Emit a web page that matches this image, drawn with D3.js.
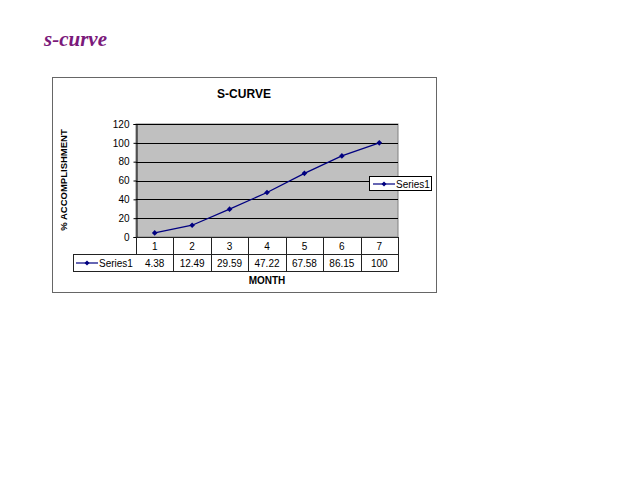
<!DOCTYPE html>
<html>
<head>
<meta charset="utf-8">
<script src="https://cdn.jsdelivr.net/npm/d3@7"></script>
<style>
body { margin: 0; background: #fff; }
svg { display: block; }
</style>
</head>
<body>
<svg width="638" height="478"></svg>
<script>
let svg = d3.select("svg");

let months = ["1", "2", "3", "4", "5", "6", "7"];
let series1 = [4.38, 12.49, 29.59, 47.22, 67.58, 86.15, 100];
let yTicks = [0, 20, 40, 60, 80, 100, 120];
let seriesName = "Series1";

let font = "Liberation Sans, Arial, sans-serif";
let plotLeft = 136, plotRight = 398, plotTop = 124, plotBottom = 237;
let rowH = 17;
let tableLeft = 73;
let lineColor = "#000080";

// page title
svg.append("text")
    .attr("x", 44)
    .attr("y", 46)
    .attr("fill", "#7b1a7b")
    .style("font-family", "Liberation Serif, serif")
    .style("font-size", "21px")
    .style("font-weight", "bold")
    .style("font-style", "italic")
    .text("s-curve");

// chart frame
svg.append("rect")
    .attr("x", 52.5).attr("y", 77.5)
    .attr("width", 384).attr("height", 215)
    .attr("fill", "#fff").attr("stroke", "#666").attr("stroke-width", 1);

svg.append("text")
    .attr("x", 244).attr("y", 98)
    .attr("text-anchor", "middle")
    .style("font-family", font).style("font-size", "12px").style("font-weight", "bold")
    .text("S-CURVE");

let x = d3.scaleBand().domain(months).range([plotLeft, plotRight]);
let y = d3.scaleLinear().domain([0, 120]).range([plotBottom, plotTop]);

// plot area
svg.append("rect")
    .attr("x", plotLeft).attr("y", plotTop)
    .attr("width", plotRight - plotLeft).attr("height", plotBottom - plotTop)
    .attr("fill", "#c0c0c0").attr("stroke", "#808080");

svg.append("g")
    .selectAll("line")
    .data(yTicks.filter(d => d > 0))
    .join("line")
    .attr("x1", plotLeft).attr("x2", plotRight)
    .attr("y1", d => Math.round(y(d)) + 0.5).attr("y2", d => Math.round(y(d)) + 0.5)
    .attr("stroke", "#000").attr("stroke-width", 1);

// y axis
let yAxis = svg.append("g")
    .attr("transform", `translate(${plotLeft + 0.5},0)`)
    .call(d3.axisLeft(y).tickValues(yTicks).tickSize(3).tickPadding(4));
yAxis.select(".domain").attr("stroke", "#000");
yAxis.selectAll("text").style("font-family", font).style("font-size", "10px").attr("fill", "#000");

svg.append("text")
    .attr("transform", "translate(67,180) rotate(-90)")
    .attr("text-anchor", "middle")
    .style("font-family", font).style("font-size", "9.5px").style("font-weight", "bold")
    .text("% ACCOMPLISHMENT");

// data table
let table = svg.append("g").attr("stroke", "#222").attr("fill", "none");
table.append("rect")
    .attr("x", plotLeft + 0.5).attr("y", plotBottom + 0.5)
    .attr("width", plotRight - plotLeft).attr("height", rowH);
table.append("rect")
    .attr("x", tableLeft + 0.5).attr("y", plotBottom + rowH + 0.5)
    .attr("width", plotRight - tableLeft).attr("height", rowH);
table.selectAll("line.col")
    .data(months.slice(1))
    .join("line")
    .attr("class", "col")
    .attr("x1", d => Math.round(x(d)) + 0.5).attr("x2", d => Math.round(x(d)) + 0.5)
    .attr("y1", plotBottom).attr("y2", plotBottom + 2 * rowH);

svg.append("g")
    .selectAll("text")
    .data(months)
    .join("text")
    .attr("x", d => x(d) + x.bandwidth() / 2)
    .attr("y", plotBottom + 13)
    .attr("text-anchor", "middle")
    .style("font-family", font).style("font-size", "10px")
    .text(d => d);

svg.append("g")
    .selectAll("text")
    .data(series1)
    .join("text")
    .attr("x", (d, i) => x(months[i]) + x.bandwidth() / 2)
    .attr("y", plotBottom + rowH + 13)
    .attr("text-anchor", "middle")
    .style("font-family", font).style("font-size", "10px")
    .text(d => d);

// legend key in table
function legendKey(g, cx, cy) {
    g.append("line")
        .attr("x1", cx - 11).attr("x2", cx + 11)
        .attr("y1", cy).attr("y2", cy)
        .attr("stroke", lineColor).attr("stroke-width", 1.2);
    g.append("path")
        .attr("d", d3.symbol(d3.symbolDiamond2, 16)())
        .attr("transform", `translate(${cx},${cy})`)
        .attr("fill", lineColor);
}
legendKey(svg, 87, plotBottom + rowH + 9);
svg.append("text")
    .attr("x", 99).attr("y", plotBottom + rowH + 13)
    .style("font-family", font).style("font-size", "10px")
    .text(seriesName);

svg.append("text")
    .attr("x", (plotLeft + plotRight) / 2).attr("y", 284)
    .attr("text-anchor", "middle")
    .style("font-family", font).style("font-size", "10px").style("font-weight", "bold")
    .text("MONTH");

// series line
let line = d3.line()
    .x((d, i) => x(months[i]) + x.bandwidth() / 2)
    .y(d => y(d));
svg.append("path")
    .datum(series1)
    .attr("d", line)
    .attr("fill", "none")
    .attr("stroke", lineColor)
    .attr("stroke-width", 1.3);
svg.append("g")
    .selectAll("path")
    .data(series1)
    .join("path")
    .attr("d", d3.symbol(d3.symbolDiamond2, 20)())
    .attr("transform", (d, i) => `translate(${x(months[i]) + x.bandwidth() / 2},${y(d)})`)
    .attr("fill", lineColor);

// legend box
let lg = svg.append("g");
lg.append("rect")
    .attr("x", 369.5).attr("y", 176.5)
    .attr("width", 62).attr("height", 14)
    .attr("fill", "#fff").attr("stroke", "#000");
legendKey(lg, 384, 184);
lg.append("text")
    .attr("x", 396).attr("y", 188)
    .style("font-family", font).style("font-size", "10px")
    .text(seriesName);
</script>
</body>
</html>
